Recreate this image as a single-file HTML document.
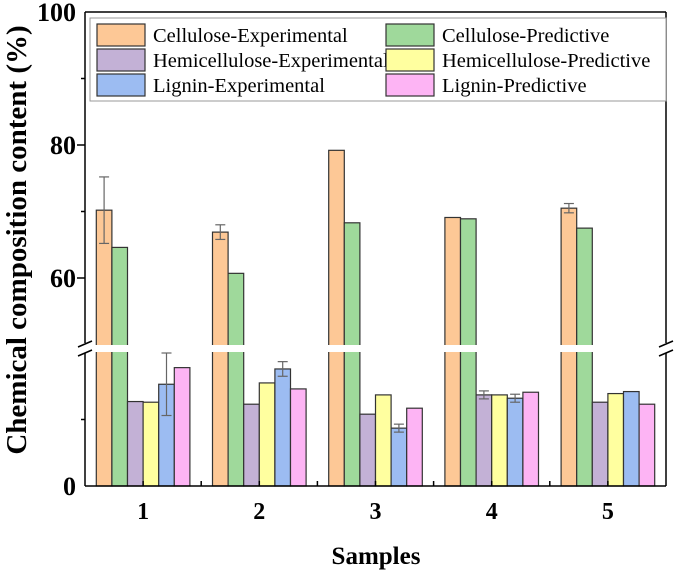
<!DOCTYPE html>
<html><head><meta charset="utf-8"><style>
body{margin:0;background:#fff}
svg{display:block;font-family:"Liberation Serif",serif}
</style></head><body>
<svg id="c" width="685" height="574" xmlns="http://www.w3.org/2000/svg"></svg>
<script>
const categories=["1","2","3","4","5"];
const seriesNames=["Cellulose-Experimental","Cellulose-Predictive","Hemicellulose-Experimental","Hemicellulose-Predictive","Lignin-Experimental","Lignin-Predictive"];
const cellExp=[70.2,66.9,79.2,69.1,70.5];
const cellPred=[64.6,60.7,68.3,68.9,67.5];
const hemiExp=[12.7,12.3,10.8,13.7,12.6];
const hemiPred=[12.6,15.5,13.7,13.7,13.9];
const ligExp=[15.3,17.6,8.7,13.2,14.2];
const ligPred=[17.8,14.6,11.7,14.1,12.3];
const cellExpErr=[5,1.1,0,0,0.7];
const hemiExpErr=[0,0,0,0.6,0];
const ligExpErr=[4.7,1.1,0.6,0.6,0];
const upperTicks=[100,80,60];
const lowerTicks=[0];
const colors=["#fdc896","#9fd99b","#c3b1d6","#ffff9f","#9cbcf2","#fdb4f4"];

const NS="http://www.w3.org/2000/svg";
const svg=document.getElementById('c');
function el(t,a,p){const e=document.createElementNS(NS,t);for(const k in a)e.setAttribute(k,a[k]);(p||svg).appendChild(e);return e;}
const L=85,R=666,T=12,B=486,K=6.65;
function yv(v){return v>=50?T+(100-v)*K:B-v*K;}
const gw=(R-L)/5, bw=15.6;
function xb(g,s){return L+gw*(g+0.5)-3*bw+s*bw;}

const data=[cellExp,cellPred,hemiExp,hemiPred,ligExp,ligPred];
const errs=[cellExpErr,null,hemiExpErr,null,ligExpErr,null];
data.forEach((arr,s)=>{arr.forEach((v,g)=>{
  const r=el('rect',{x:xb(g,s),y:yv(v),width:bw,height:B-yv(v),fill:colors[s],stroke:'#333','stroke-width':1.2});
  
  
});});
const band=el('rect',{x:L+1,y:345,width:R-L-2,height:7,fill:'#fff'});


errs.forEach((arr,s)=>{if(!arr)return;arr.forEach((e,g)=>{if(!e)return;
  const v=data[s][g],cx=xb(g,s)+bw/2;
  const eg=el('g',{stroke:'#666','stroke-width':1.2});
  
  
  el('line',{x1:cx,x2:cx,y1:yv(v+e),y2:yv(v-e)},eg);
  el('line',{x1:cx-5,x2:cx+5,y1:yv(v+e),y2:yv(v+e)},eg);
  el('line',{x1:cx-5,x2:cx+5,y1:yv(v-e),y2:yv(v-e)},eg);
});});
const fr=el('g',{stroke:'#000','stroke-width':1.5,fill:'none'});


el('line',{x1:L,y1:T,x2:R,y2:T},fr);
el('line',{x1:L,y1:B,x2:R,y2:B},fr);
el('line',{x1:L,y1:T,x2:L,y2:343},fr);
el('line',{x1:L,y1:353,x2:L,y2:B},fr);
el('line',{x1:R,y1:T,x2:R,y2:343},fr);
el('line',{x1:R,y1:353,x2:R,y2:B},fr);
[L,R].forEach(x=>{el('line',{x1:x-7,y1:347,x2:x+7,y2:341},fr);el('line',{x1:x-7,y1:356,x2:x+7,y2:350},fr);});
[90,80,70,60,10].forEach(v=>{const big=(v%20==0);el('line',{x1:L-(big?8:4),x2:L,y1:yv(v),y2:yv(v)},fr);});
upperTicks.concat(lowerTicks).forEach(v=>{
  const t=el('text',{x:76,y:yv(v)+9,'text-anchor':'end','font-size':26,'font-weight':'bold'});t.textContent=v;
  
  
});
categories.forEach((c,g)=>{
  const cx=L+gw*(g+0.5);
  el('line',{x1:cx,x2:cx,y1:B,y2:B-5},fr);
  if(g>0)el('line',{x1:L+gw*g,x2:L+gw*g,y1:B,y2:B-5},fr);
  const t=el('text',{x:cx,y:519,'text-anchor':'middle','font-size':24,'font-weight':'bold'});t.textContent=c;
  
  
});
const xt=el('text',{x:376,y:564,'text-anchor':'middle','font-size':25,'font-weight':'bold'});xt.textContent='Samples';


const yt=el('text',{x:0,y:0,transform:'translate(26,240) rotate(-90)','text-anchor':'middle','font-size':29,'font-weight':'bold'});yt.textContent='Chemical composition content (%)';


const lg=el('g',{});


el('rect',{x:90,y:18,width:576,height:83,fill:'#fff',stroke:'#999','stroke-width':1},lg);
seriesNames.forEach((n,i)=>{
  const col=i%2,row=Math.floor(i/2);
  const x=col?386:97,y=24+row*25;
  const g=el('g',{},lg);
  
  
  el('rect',{x:x,y:y,width:48,height:22,fill:colors[i],stroke:'#333','stroke-width':1.2},g);
  const t=el('text',{x:x+56,y:y+18,'font-size':20.5},g);t.textContent=n;
});
</script>
</body></html>
